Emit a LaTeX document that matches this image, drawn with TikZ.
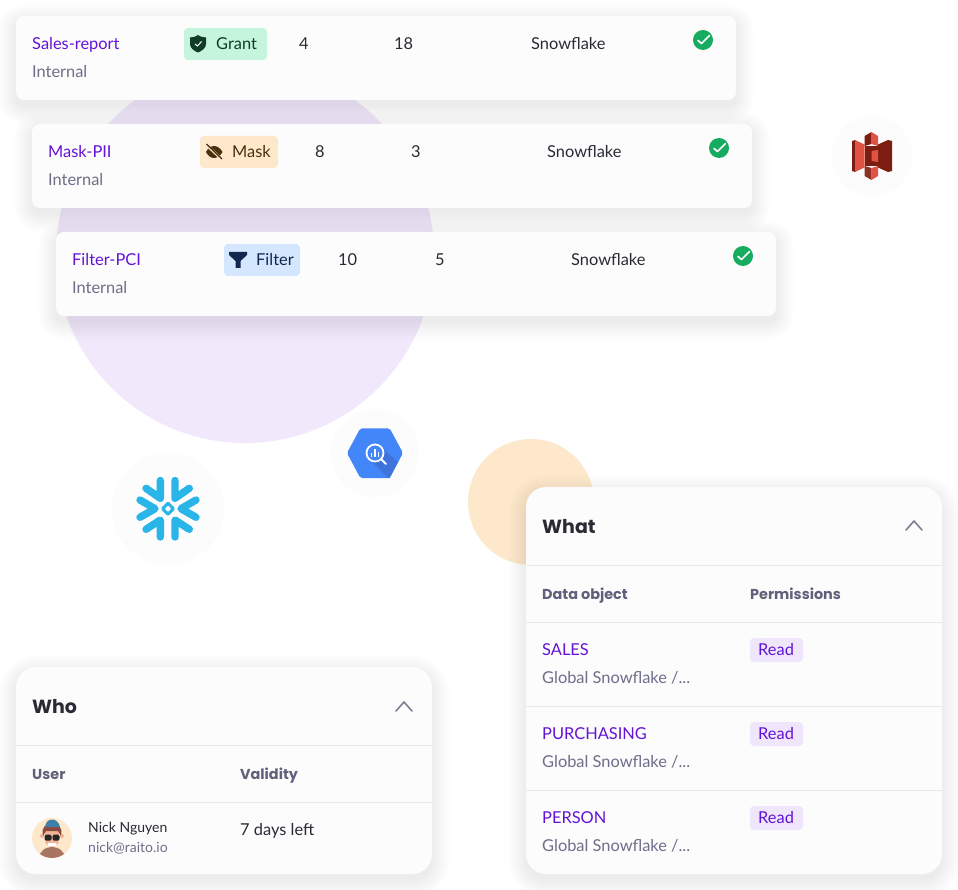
\documentclass[tikz,border=0pt]{standalone}
\usepackage{fontspec}
\setmainfont{Lato}
\newfontfamily\headfont{Poppins}
\usetikzlibrary{shapes.geometric}
\definecolor{cardbg}{HTML}{FCFCFC}
\definecolor{lilac}{HTML}{F1E8FC}
\definecolor{peach}{HTML}{FEE8CB}
\definecolor{violet}{HTML}{6413D6}
\definecolor{greytext}{HTML}{6E6E8A}
\definecolor{inktext}{HTML}{2A2A35}
\definecolor{headtext}{HTML}{5F6079}
\definecolor{rulecol}{HTML}{E9E9EC}
\definecolor{okgreen}{HTML}{17AB5F}
\definecolor{mint}{HTML}{C5F6DD}
\definecolor{skyb}{HTML}{D5E6FF}
\definecolor{readbg}{HTML}{F0E6FB}
\definecolor{grantink}{HTML}{0F3D26}
\definecolor{maskink}{HTML}{4A2F0C}
\definecolor{filterink}{HTML}{10264D}
\definecolor{s3a}{HTML}{E05243}
\definecolor{s3b}{HTML}{8C3123}
\definecolor{s3c}{HTML}{7D1C10}
\definecolor{bq}{HTML}{4386FA}
\definecolor{bqd}{HTML}{3F74DC}
\definecolor{snow}{HTML}{29B5E8}
\definecolor{skin}{HTML}{F0B598}
\definecolor{hairc}{HTML}{8E4A3E}
\definecolor{capc}{HTML}{3E7FA8}
\definecolor{hood}{HTML}{A87660}
\tikzset{
 lbl/.style={anchor=base west,inner sep=0pt,yshift=-5.6pt,font=\fontsize{16.4}{18}\selectfont},
 rowname/.style={lbl,text=violet},
 subtxt/.style={lbl,text=greytext},
 valtxt/.style={lbl,text=inktext},
 headtxt/.style={lbl,text=headtext,font=\headfont\fontsize{14.4}{18}\selectfont\bfseries},
 titletxt/.style={lbl,yshift=-1.6pt,text=inktext,font=\headfont\fontsize{19}{24}\selectfont\bfseries},
 smalltxt/.style={lbl,yshift=1pt,font=\fontsize{14}{16}\selectfont},
 badge/.style={fill=#1,rounded corners=4pt,draw=none},
 rulel/.style={draw=rulecol,line width=1pt},
 chevron/.style={draw=headtext!80,line width=1.6pt,line cap=round,line join=round},
 snowarm/.style={draw=snow,line width=7.4pt,line cap=round,line join=round},
}
\newcommand{\softcard}[5]{% x1 y1 x2 y2 radius
  \foreach \s in {18,...,0}{
    \fill[black,opacity=0.0055,rounded corners=#5+\s*1pt]
      (#1-\s,#2-\s+6) rectangle (#3+\s,#4+\s+6);
  }
  \fill[cardbg,rounded corners=#5] (#1,#2) rectangle (#3,#4);
}
\newcommand{\okmark}[2]{%
  \fill[okgreen] (#1,#2) circle (10);
  \draw[white,line width=1.7pt,line cap=round,line join=round] (#1-5,#2+0.5) -- (#1-1.5,#2+3.5) -- (#1+6.5,#2-4.5);
}
\begin{document}
\begin{tikzpicture}[x=1pt,y=-1pt]
\useasboundingbox (0,0) rectangle (958,890);
\fill[white] (0,0) rectangle (958,890);
% background circles
\fill[lilac] (245,254) circle (189);
\fill[peach] (531,502) circle (63);
% table rows
\softcard{16}{16}{736}{100}{8pt}
\softcard{32}{124}{752}{208}{8pt}
\softcard{56}{232}{776}{316}{8pt}
% row 1
\node[rowname] (r1n) at (32,44) {Sales-report};
\node[subtxt] (r1s) at (32,72) {Internal};
\fill[badge=mint] (184,28) rectangle (267,60);
\fill[grantink] (190,37.5) .. controls (195,37) and (197,36) .. (198,35) .. controls (199,36) and (201,37) .. (206,37.5) -- (206,44) .. controls (206,48) and (202,51) .. (198,52.5) .. controls (194,51) and (190,48) .. (190,44) -- cycle;
\draw[white,line width=1pt] (195,44) -- (197.5,46) -- (201.5,41.5);
\node[valtxt,text=grantink] (r1b) at (216,44) {Grant};
\node[valtxt] (r1c) at (299,44) {4};
\node[valtxt] (r1d) at (394,44) {18};
\node[valtxt] (r1e) at (531,44) {Snowflake};
\okmark{703}{40}
% row 2
\node[rowname] (r2n) at (48,152) {Mask-PII};
\node[subtxt] (r2s) at (48,180) {Internal};
\fill[badge=peach] (200,136) rectangle (278,168);
\fill[maskink] (206,152) .. controls (210,144) and (218,144) .. (222.5,152) .. controls (218,160) and (210,160) .. (206,152) -- cycle;
\draw[peach,line width=2.6pt] (207,145.5) -- (222,159.5);
\draw[maskink,line width=1.3pt] (206.5,144) -- (222,159);
\node[valtxt,text=maskink] (r2b) at (232,152) {Mask};
\node[valtxt] (r2c) at (315,152) {8};
\node[valtxt] (r2d) at (411,152) {3};
\node[valtxt] (r2e) at (547,152) {Snowflake};
\okmark{719}{148}
% row 3
\node[rowname] (r3n) at (72,260) {Filter-PCI};
\node[subtxt] (r3s) at (72,288) {Internal};
\fill[badge=skyb] (224,244) rectangle (300,276);
\fill[filterink] (229,252) -- (247,252) -- (247,255) -- (240.5,261) -- (240.5,268) -- (235.5,268) -- (235.5,261) -- (229,255) -- cycle;
\node[valtxt,text=filterink] (r3b) at (256,260) {Filter};
\node[valtxt] (r3c) at (338,260) {10};
\node[valtxt] (r3d) at (435,260) {5};
\node[valtxt] (r3e) at (571,260) {Snowflake};
\okmark{743}{256}
% S3
\fill[cardbg] (872,156) circle (40);
\fill[s3c] (864.5,146) rectangle (878,166);
\fill[s3c] (852,141) -- (855,140) -- (855,172) -- (852,171) -- cycle;
\fill[s3a] (855,140) -- (864.5,144.5) -- (864.5,167.5) -- (855,172) -- cycle;
\fill[s3c] (892,141) -- (888,140) -- (878,144.5) -- (878,167.5) -- (888,172) -- (892,171) -- cycle;
\fill[s3c] (864.5,136) -- (871.5,132) -- (871.5,144) -- (864.5,146) -- cycle;
\fill[s3a] (871.5,132) -- (878,136) -- (878,146) -- (871.5,144) -- cycle;
\fill[s3a] (871.5,151) -- (878,150) -- (878,162) -- (871.5,161) -- cycle;
\fill[s3b] (864.5,166) -- (871.5,168) -- (871.5,180) -- (864.5,176) -- cycle;
\fill[s3a] (871.5,168) -- (878,166) -- (878,176) -- (871.5,180) -- cycle;
% BigQuery
\fill[cardbg] (375,453) circle (44);
\fill[bq,rounded corners=2pt] (347,453) -- (360.3,428.3) -- (389.7,428.3) -- (403,453) -- (389.7,478) -- (360.3,478) -- cycle;
\fill[bqd] (372,462) -- (382,448) -- (398,462) -- (389.7,478) -- (388,478) -- cycle;
\draw[white,line width=1.8pt,fill=bq] (375,453) circle (8.5);
\draw[white,line width=1.8pt,line cap=round] (381.5,459.5) -- (386,464);
\draw[white,line width=1.4pt] (371.5,452.5) -- (371.5,456.5) (375,449) -- (375,456.5) (378.5,451.5) -- (378.5,456.5);
% Snowflake
\fill[cardbg] (168,509) circle (56);
\draw[snowarm] (146,488.3) -- (160.3,498.3) -- (160.3,480.5);
\draw[snowarm] (175,480.5) -- (175,498.3) -- (189.3,488.3);
\draw[snowarm] (140,500) -- (155,508.7) -- (140,517.3);
\draw[snowarm] (196,500) -- (181,508.7) -- (196,517.3);
\draw[snowarm] (146,529.3) -- (160.3,520) -- (160.3,537);
\draw[snowarm] (175,537) -- (175,520) -- (189.3,529.3);
\fill[snow,rounded corners=1.5pt] (168,501) -- (175.5,508.7) -- (168,516.4) -- (160.5,508.7) -- cycle;
\fill[white,rounded corners=0.8pt] (168,505.5) -- (171.2,508.7) -- (168,511.9) -- (164.8,508.7) -- cycle;
% Who panel
\softcard{16}{667}{432}{874}{20pt}
\node[titletxt] (whot) at (32,706) {Who};
\draw[chevron] (396,711) -- (404,702) -- (412,711);
\draw[rulel] (16,745.5) -- (432,745.5);
\draw[rulel] (16,802.5) -- (432,802.5);
\node[headtxt] (whou) at (32,774) {User};
\node[headtxt] (whov) at (240,774) {Validity};
\fill[peach] (52,838) circle (20);
\begin{scope}
\clip (52,838) circle (20);
\fill[hood] (39,858) .. controls (40,850) and (46,847) .. (52,847) .. controls (58,847) and (64,850) .. (65,858) -- cycle;
\fill[skin] (45,840) .. controls (45,849) and (59,849) .. (59,840) -- (59,830) -- (45,830) -- cycle;
\fill[skin] (42,836) circle (2) (62,836) circle (2);
\fill[hairc] (43,836) .. controls (41,826) and (46,824) .. (52,824) .. controls (58,824) and (63,826) .. (61,836) -- (58,831) -- (46,831) -- cycle;
\fill[capc] (45,827) .. controls (46,817) and (58,817) .. (60,827) -- cycle;
\fill[black!85,rounded corners=1.5pt] (44.5,834.5) rectangle (51.5,840.5);
\fill[black!85,rounded corners=1.5pt] (52.5,834.5) rectangle (59.5,840.5);
\fill[white,rounded corners=1pt] (47.5,843) rectangle (56.5,846);
\end{scope}
\node[smalltxt,text=inktext] (nick) at (88,828) {Nick Nguyen};
\node[smalltxt,text=greytext] (mail) at (88,848) {nick@raito.io};
\node[valtxt] (left) at (240,830) {7 days left};
% What panel
\softcard{526}{487}{942}{874}{20pt}
\node[titletxt] (whatt) at (542,526) {What};
\draw[chevron] (906,530) -- (914,521) -- (922,530);
\draw[rulel] (526,565.5) -- (942,565.5);
\draw[rulel] (526,622.5) -- (942,622.5);
\draw[rulel] (526,706.5) -- (942,706.5);
\draw[rulel] (526,790.5) -- (942,790.5);
\node[headtxt] (wd) at (542,594) {Data object};
\node[headtxt] (wp) at (750,594) {Permissions};
\foreach \y/\t/\n in {650/SALES/a,734/PURCHASING/b,818/PERSON/c}{
  \node[rowname] (o\n) at (542,\y) {\t};
  \node[subtxt] (g\n) at (542,\y+28) {Global Snowflake /...};
  \fill[badge=readbg] (750,\y-12) rectangle (803,\y+12);
  \node[lbl,text=violet] (p\n) at (758,\y) {Read};
}
\end{tikzpicture}
\end{document}
